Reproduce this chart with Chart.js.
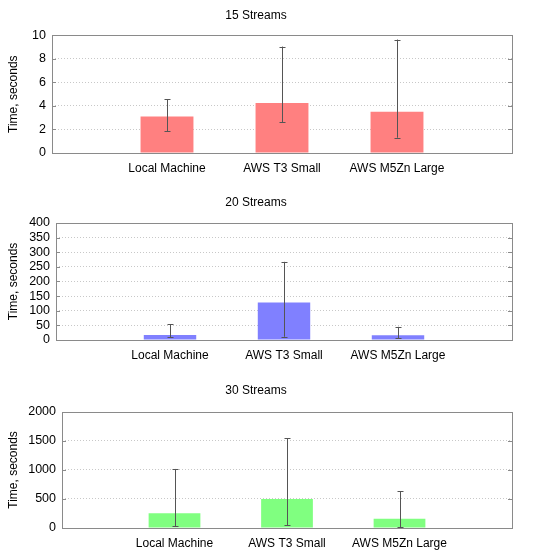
<!DOCTYPE html>
<html>
<head>
<meta charset="utf-8">
<script src="https://cdn.jsdelivr.net/npm/chart.js@4.4.1/dist/chart.umd.min.js"></script>
<style>
  html, body { margin: 0; padding: 0; background: #fff; }
  .panel { width: 550px; height: 185px; }
  canvas { display: block; }
</style>
</head>
<body>
<div class="panel"><canvas id="chart15" width="550" height="185"></canvas></div>
<div class="panel"><canvas id="chart20" width="550" height="185"></canvas></div>
<div class="panel"><canvas id="chart30" width="550" height="185"></canvas></div>
<script>
const categories = ["Local Machine", "AWS T3 Small", "AWS M5Zn Large"];

const times15 = [3.1, 4.25, 3.5];
const low15 = [1.85, 2.6, 1.3];
const high15 = [4.55, 9.05, 9.65];

const times20 = [17, 128, 16];
const low20 = [9, 11, 6];
const high20 = [53, 267, 45];

const times30 = [256, 500, 159];
const low30 = [28, 45, 11];
const high30 = [1017, 1545, 636];

const titles = ["15 Streams", "20 Streams", "30 Streams"];
const yMax = [10, 400, 2000];
const yStep = [2, 50, 500];

document.addEventListener("DOMContentLoaded", () => {
  const fontFamily = "'Liberation Sans', Arial, Helvetica, sans-serif";
  Chart.defaults.font.family = fontFamily;
  Chart.defaults.font.size = 12;
  Chart.defaults.color = "#000";

  // blank slots either side so the three bars sit on quarter lines
  const labels = ["", ...categories, ""];
  const pad = (arr) => [null, ...arr, null];

  // frame box, inward ticks on both sides, and error bars
  const framePlugin = {
    id: "frame",
    afterDatasetsDraw(chart, args, opts) {
      const { ctx, chartArea, scales } = chart;
      const y = scales.y;
      const x = scales.x;
      ctx.save();

      ctx.strokeStyle = "#555";
      ctx.lineWidth = 1;
      opts.low.forEach((lo, i) => {
        if (lo === null) return;
        const px = Math.round(x.getPixelForValue(i)) + 0.5;
        const top = y.getPixelForValue(opts.high[i]);
        const bottom = y.getPixelForValue(lo);
        ctx.beginPath();
        ctx.moveTo(px, top);
        ctx.lineTo(px, bottom);
        ctx.moveTo(px - 3, Math.round(top) + 0.5);
        ctx.lineTo(px + 3, Math.round(top) + 0.5);
        ctx.moveTo(px - 3, Math.round(bottom) + 0.5);
        ctx.lineTo(px + 3, Math.round(bottom) + 0.5);
        ctx.stroke();
      });

      ctx.strokeStyle = "#8a8a8a";
      ctx.beginPath();
      y.ticks.forEach((t) => {
        const py = Math.round(y.getPixelForValue(t.value)) + 0.5;
        ctx.moveTo(chartArea.left, py);
        ctx.lineTo(chartArea.left + 4, py);
        ctx.moveTo(chartArea.right, py);
        ctx.lineTo(chartArea.right - 4, py);
      });
      ctx.stroke();
      ctx.strokeRect(
        Math.round(chartArea.left) + 0.5,
        Math.round(chartArea.top) + 0.5,
        Math.round(chartArea.right - chartArea.left),
        Math.round(chartArea.bottom - chartArea.top)
      );
      ctx.restore();
    }
  };

  function makeChart(id, values, low, high, color, idx, layout) {
    return new Chart(document.getElementById(id), {
      type: "bar",
      data: {
        labels,
        datasets: [
          {
            data: pad(values),
            backgroundColor: color,
            borderWidth: 0,
            barPercentage: 0.46,
            categoryPercentage: 1
          }
        ]
      },
      options: {
        responsive: false,
        animation: false,
        layout: { padding: { left: 0, right: 38, top: 0, bottom: 0 } },
        plugins: {
          legend: { display: false },
          tooltip: { enabled: false },
          title: {
            display: true,
            text: titles[idx],
            color: "#000",
            font: { size: 12, weight: "normal" },
            padding: { top: layout.titleTop, bottom: layout.titleBottom }
          },
          frame: { low: pad(low), high: pad(high) }
        },
        scales: {
          x: {
            offset: false,
            grid: { display: false, drawTicks: false },
            border: { display: false },
            ticks: { padding: 8, maxRotation: 0, autoSkip: false, color: "#000" },
            afterFit: (scale) => {
              scale.height = layout.xHeight;
            }
          },
          y: {
            min: 0,
            max: yMax[idx],
            ticks: {
              stepSize: yStep[idx],
              autoSkip: false,
              padding: 6,
              color: "#000",
              font: { size: 12.5 },
              callback: (value) => String(value)
            },
            grid: {
              // frame covers the top and bottom lines
              color: (c) => (c.tick && (c.tick.value === 0 || c.tick.value === yMax[idx]) ? "rgba(0,0,0,0)" : "#c8c8c8"),
              drawTicks: false
            },
            border: { display: false, dash: [1, 2] },
            title: {
              display: true,
              text: "Time, seconds",
              color: "#000",
              font: { size: 12 },
              padding: { top: 6, bottom: 0 }
            },
            afterFit: (scale) => {
              scale.width = layout.yWidth;
            }
          }
        }
      },
      plugins: [framePlugin]
    });
  }

  makeChart("chart15", times15, low15, high15, "#ff8080", 0,
    { titleTop: 8, titleBottom: 13, xHeight: 32, yWidth: 52 });
  makeChart("chart20", times20, low20, high20, "#8080ff", 1,
    { titleTop: 10, titleBottom: 13.5, xHeight: 30, yWidth: 56 });
  makeChart("chart30", times30, low30, high30, "#80ff80", 2,
    { titleTop: 13, titleBottom: 14.5, xHeight: 27, yWidth: 62 });
});
</script>
</body>
</html>
